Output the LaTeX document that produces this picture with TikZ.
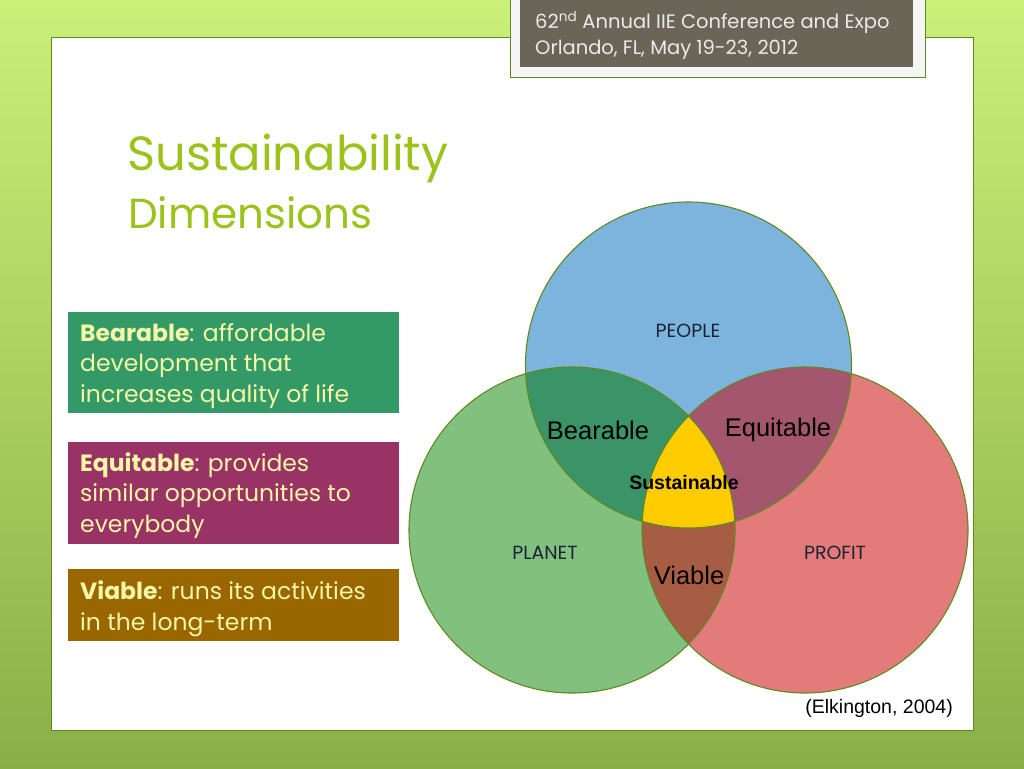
\documentclass[tikz,border=0pt]{standalone}
\usepackage{fontspec}
\setmainfont{Poppins}
\newfontfamily\arialfont{Liberation Sans}
\usepackage{xcolor}
\usetikzlibrary{positioning}

\definecolor{bgtop}{HTML}{CCEF78}
\definecolor{bgbot}{HTML}{89B047}
\definecolor{rimgreen}{HTML}{5E8A1E}
\definecolor{titlegreen}{HTML}{9BC31C}
\definecolor{confbrown}{HTML}{6B6557}
\definecolor{peopleblue}{HTML}{7DB4DD}
\definecolor{planetgreen}{HTML}{82C07F}
\definecolor{profitred}{HTML}{E47B7B}
\definecolor{bearfill}{HTML}{3A9468}
\definecolor{equifill}{HTML}{A5566F}
\definecolor{viafill}{HTML}{A65D43}
\definecolor{sustfill}{HTML}{FFCC00}
\definecolor{boxgreen}{HTML}{339966}
\definecolor{boxpurple}{HTML}{993366}
\definecolor{boxbrown}{HTML}{996600}
\definecolor{boxtext}{HTML}{F4F7A6}
\definecolor{labelink}{HTML}{1B2433}

\tikzset{
  rim/.style={draw=rimgreen, line width=1.1pt},
  infotext/.style={anchor=base west, align=left, inner sep=0pt, text=boxtext,
    font=\fontsize{23.5}{30.5}\selectfont},
  vennlabel/.style={text=labelink, font=\fontsize{19}{21}\selectfont},
  overlap/.style={font=\arialfont\fontsize{25.5}{28}\selectfont}
}

\begin{document}
\begin{tikzpicture}[x=1pt, y=-1pt]
  \useasboundingbox (0,0) rectangle (1024,768);
  % background and slide panel
  \shade[top color=bgtop, bottom color=bgbot] (0,0) rectangle (1024,768);
  \draw[rimgreen, fill=white, line width=0.8pt] (51,37) rectangle (973,730);

  % conference banner
  \draw[rimgreen, fill=white!96!black, line width=0.8pt] (510,-2) rectangle (925,77);
  \fill[confbrown] (520,-2) rectangle (913,67);
  \node[anchor=base west, inner sep=0pt, text=white!92!black, align=left,
        font=\fontsize{19.5}{26}\selectfont] (conf) at (535,55)
        {62\textsuperscript{nd} Annual IIE Conference and Expo\\Orlando, FL, May 19-23, 2012};

  % title
  \node[anchor=base west, inner sep=0pt, text=titlegreen,
        font=\fontsize{48}{56}\selectfont] (title1) at (127,170) {Sustainability};
  \node[anchor=base west, inner sep=0pt, text=titlegreen,
        font=\fontsize{42}{48}\selectfont] (title2) at (128,228) {Dimensions};

  % definition boxes
  \fill[boxgreen] (68,312) rectangle (399,413);
  \node[infotext] (bearbox) at (80,402)
    {\textbf{Bearable}: affordable\\development that\\increases quality of life};
  \fill[boxpurple] (68,442) rectangle (399,544);
  \node[infotext] (equibox) at (80,532)
    {\textbf{Equitable}: provides\\similar opportunities to\\everybody};
  \fill[boxbrown] (68,569) rectangle (399,641);
  \node[infotext] (viabox) at (80,630)
    {\textbf{Viable}: runs its activities\\in the long-term};

  % venn diagram
  \coordinate (cPeople) at (688.5,365);
  \coordinate (cPlanet) at (572,530);
  \coordinate (cProfit) at (805,530);
  \def\rad{163pt}
  \fill[peopleblue] (cPeople) circle[radius=\rad];
  \fill[planetgreen] (cPlanet) circle[radius=\rad];
  \fill[profitred] (cProfit) circle[radius=\rad];
  \begin{scope}
    \clip (cPeople) circle[radius=\rad];
    \fill[bearfill] (cPlanet) circle[radius=\rad];
    \fill[equifill] (cProfit) circle[radius=\rad];
  \end{scope}
  \begin{scope}
    \clip (cPlanet) circle[radius=\rad];
    \fill[viafill] (cProfit) circle[radius=\rad];
    \clip (cProfit) circle[radius=\rad];
    \fill[sustfill] (cPeople) circle[radius=\rad];
  \end{scope}
  \draw[rim] (cPeople) circle[radius=\rad];
  \draw[rim] (cPlanet) circle[radius=\rad];
  \draw[rim] (cProfit) circle[radius=\rad];

  \node[vennlabel] (people) at (688,331) {PEOPLE};
  \node[vennlabel] (planet) at (545,553) {PLANET};
  \node[vennlabel] (profit) at (835,553) {PROFIT};
  \node[overlap] (bearable) at (598,430) {Bearable};
  \node[overlap] (equitable) at (778,430) {Equitable};
  \node[overlap] (viable) at (689,575) {Viable};
  \node[font=\arialfont\bfseries\fontsize{19.5}{21}\selectfont] (sustainable) at (684,483) {Sustainable};

  % source
  \node[anchor=base east, inner sep=0pt, font=\arialfont\fontsize{19.5}{21}\selectfont]
    (source) at (953,713) {(Elkington, 2004)};
\end{tikzpicture}
\end{document}
